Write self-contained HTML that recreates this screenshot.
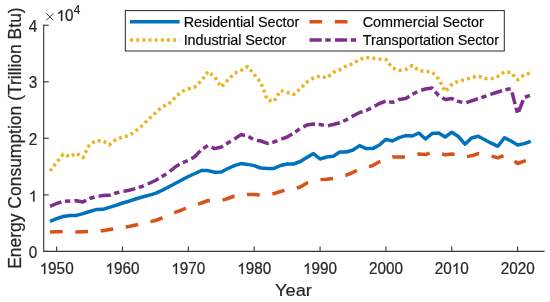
<!DOCTYPE html>
<html><head><meta charset="utf-8"><style>
html,body{margin:0;padding:0;background:#fff;width:550px;height:302px;overflow:hidden;}
svg{display:block;will-change:transform;}
.k{stroke:#262626;stroke-width:0.22px;vector-effect:non-scaling-stroke;}
.k2{stroke:#000;stroke-width:0.15px;}
svg{font-family:"Liberation Sans", sans-serif;}
</style></head><body>
<svg width="550" height="302" viewBox="0 0 550 302">
<rect width="550" height="302" fill="#fff"/>
<g fill="none" stroke-width="3.50" stroke-linejoin="round">
<path d="M50.04,171.00 L56.62,162.50 L63.21,154.20 L69.79,156.80 L76.38,153.20 L82.97,157.60 L89.55,144.50 L96.14,140.80 L102.72,140.60 L109.31,144.80 L115.90,139.50 L122.48,137.20 L129.07,135.50 L135.65,131.00 L142.24,125.50 L148.83,119.00 L155.41,113.00 L162.00,106.80 L168.58,104.00 L175.17,97.50 L181.76,91.50 L188.34,89.00 L194.93,87.00 L201.51,80.50 L208.10,71.50 L214.69,77.00 L221.27,87.00 L227.86,80.00 L234.44,73.30 L241.03,70.50 L247.62,66.50 L254.20,74.50 L260.79,82.50 L267.37,100.00 L273.96,101.50 L280.55,90.50 L287.13,92.50 L293.72,94.50 L300.30,88.50 L306.89,82.00 L313.48,78.00 L320.06,76.00 L326.65,78.00 L333.23,72.30 L339.82,69.80 L346.41,66.00 L352.99,63.60 L359.58,59.40 L366.16,57.50 L372.75,58.30 L379.34,59.00 L385.92,59.50 L392.51,68.00 L399.09,70.20 L405.68,69.50 L412.27,65.60 L418.85,70.60 L425.44,71.50 L432.02,72.00 L438.61,79.00 L445.20,91.60 L451.78,84.50 L458.37,81.00 L464.95,80.00 L471.54,77.50 L478.13,76.00 L484.71,78.40 L491.30,78.60 L497.88,76.40 L504.47,71.80 L511.06,72.50 L517.64,79.80 L524.23,74.80 L530.81,73.00" stroke="#EDB120" stroke-dasharray="2.9 3.25"/>
<path d="M50.04,232.00 L56.62,231.70 L63.21,231.50 L69.79,231.80 L76.38,232.00 L82.97,231.70 L89.55,231.50 L96.14,231.20 L102.72,230.70 L109.31,229.60 L115.90,228.50 L122.48,227.50 L129.07,226.50 L135.65,225.00 L142.24,223.50 L148.83,222.00 L155.41,220.50 L162.00,218.00 L168.58,215.00 L175.17,212.30 L181.76,210.00 L188.34,207.00 L194.93,205.00 L201.51,203.00 L208.10,200.50 L214.69,201.00 L221.27,200.50 L227.86,198.50 L234.44,196.00 L241.03,195.00 L247.62,194.40 L254.20,194.50 L260.79,195.00 L267.37,194.50 L273.96,193.60 L280.55,191.50 L287.13,189.50 L293.72,189.00 L300.30,187.00 L306.89,183.00 L313.48,181.00 L320.06,179.50 L326.65,179.20 L333.23,178.60 L339.82,177.00 L346.41,175.20 L352.99,172.30 L359.58,169.00 L366.16,167.50 L372.75,165.50 L379.34,161.80 L385.92,159.00 L392.51,157.00 L399.09,157.00 L405.68,157.00 L412.27,155.50 L418.85,154.00 L425.44,154.60 L432.02,152.30 L438.61,153.20 L445.20,154.80 L451.78,154.00 L458.37,155.00 L464.95,157.00 L471.54,155.80 L478.13,153.60 L484.71,154.80 L491.30,156.00 L497.88,157.90 L504.47,155.30 L511.06,158.50 L517.64,163.50 L524.23,161.10 L530.81,159.00" stroke="#D95319" stroke-dasharray="12.67 12.67"/>
<path d="M50.04,206.30 L56.62,203.50 L63.21,201.30 L69.79,201.00 L76.38,200.80 L82.97,201.90 L89.55,198.50 L96.14,196.50 L102.72,195.60 L109.31,195.30 L115.90,193.00 L122.48,191.60 L129.07,190.30 L135.65,188.50 L142.24,186.30 L148.83,183.50 L155.41,180.50 L162.00,176.50 L168.58,172.50 L175.17,167.00 L181.76,163.00 L188.34,160.50 L194.93,156.50 L201.51,149.50 L208.10,145.40 L214.69,148.60 L221.27,147.00 L227.86,143.00 L234.44,139.00 L241.03,134.60 L247.62,136.00 L254.20,140.00 L260.79,141.00 L267.37,143.40 L273.96,142.00 L280.55,139.50 L287.13,137.00 L293.72,133.00 L300.30,128.50 L306.89,125.00 L313.48,124.10 L320.06,124.50 L326.65,126.00 L333.23,124.50 L339.82,122.70 L346.41,119.80 L352.99,116.00 L359.58,112.50 L366.16,110.50 L372.75,107.30 L379.34,103.50 L385.92,101.00 L392.51,102.40 L399.09,99.40 L405.68,98.60 L412.27,94.40 L418.85,91.00 L425.44,89.00 L432.02,88.00 L438.61,95.50 L445.20,99.50 L451.78,98.50 L458.37,101.40 L464.95,103.00 L471.54,100.80 L478.13,98.70 L484.71,96.50 L491.30,94.20 L497.88,92.00 L504.47,90.00 L511.06,88.60 L517.64,114.20 L524.23,97.50 L530.81,95.00" stroke="#7E2F8E" stroke-dasharray="12.2 3.6 5.4 4.2"/>
<path d="M50.04,221.40 L56.62,218.60 L63.21,216.50 L69.79,215.60 L76.38,215.40 L82.97,213.60 L89.55,211.50 L96.14,209.60 L102.72,209.30 L109.31,207.30 L115.90,205.30 L122.48,203.00 L129.07,201.20 L135.65,199.00 L142.24,197.00 L148.83,195.30 L155.41,193.30 L162.00,190.40 L168.58,187.00 L175.17,183.50 L181.76,180.00 L188.34,176.50 L194.93,173.50 L201.51,170.50 L208.10,170.60 L214.69,172.20 L221.27,172.00 L227.86,168.50 L234.44,165.60 L241.03,163.60 L247.62,164.40 L254.20,165.60 L260.79,168.00 L267.37,168.40 L273.96,168.40 L280.55,165.50 L287.13,164.00 L293.72,164.00 L300.30,161.50 L306.89,157.50 L313.48,153.60 L320.06,159.00 L326.65,157.00 L333.23,156.30 L339.82,152.00 L346.41,152.00 L352.99,150.00 L359.58,145.60 L366.16,148.60 L372.75,148.60 L379.34,145.00 L385.92,139.40 L392.51,141.00 L399.09,137.60 L405.68,135.60 L412.27,136.00 L418.85,133.00 L425.44,139.00 L432.02,133.60 L438.61,133.00 L445.20,137.00 L451.78,132.20 L458.37,136.50 L464.95,144.20 L471.54,138.00 L478.13,136.30 L484.71,139.80 L491.30,143.20 L497.88,146.30 L504.47,137.80 L511.06,141.00 L517.64,145.00 L524.23,143.60 L530.81,141.30" stroke="#0072BD"/>
</g>
<g stroke="#3a3a3a" stroke-width="1.15" fill="none" stroke-linecap="square">
<path d="M43.70,25.25 L43.70,251.40 L544.00,251.40"/>
<path d="M56.62,251.40 L56.62,247.00"/>
<path d="M122.48,251.40 L122.48,247.00"/>
<path d="M188.34,251.40 L188.34,247.00"/>
<path d="M254.20,251.40 L254.20,247.00"/>
<path d="M320.06,251.40 L320.06,247.00"/>
<path d="M385.92,251.40 L385.92,247.00"/>
<path d="M451.78,251.40 L451.78,247.00"/>
<path d="M517.64,251.40 L517.64,247.00"/>
<path d="M43.70,251.40 L48.20,251.40"/>
<path d="M43.70,194.86 L48.20,194.86"/>
<path d="M43.70,138.32 L48.20,138.32"/>
<path d="M43.70,81.79 L48.20,81.79"/>
<path d="M43.70,25.25 L48.20,25.25"/>
</g>
<path class="k" d="M763,0L583,0L583,1100Q518,1040 412,980Q306,920 221,890L221,1060Q373,1130 487,1230Q601,1330 649,1409L763,1409Z" fill="#262626" transform="translate(39.61,274.00) scale(0.00747,-0.00786)"/><text class="k" font-family="Liberation Sans, sans-serif" font-size="16.10" fill="#262626" transform="translate(48.12,274.00) scale(0.950,1)">9</text><text class="k" font-family="Liberation Sans, sans-serif" font-size="16.10" fill="#262626" transform="translate(56.62,274.00) scale(0.950,1)">5</text><text class="k" font-family="Liberation Sans, sans-serif" font-size="16.10" fill="#262626" transform="translate(65.13,274.00) scale(0.950,1)">0</text>
<path class="k" d="M763,0L583,0L583,1100Q518,1040 412,980Q306,920 221,890L221,1060Q373,1130 487,1230Q601,1330 649,1409L763,1409Z" fill="#262626" transform="translate(105.47,274.00) scale(0.00747,-0.00786)"/><text class="k" font-family="Liberation Sans, sans-serif" font-size="16.10" fill="#262626" transform="translate(113.98,274.00) scale(0.950,1)">9</text><text class="k" font-family="Liberation Sans, sans-serif" font-size="16.10" fill="#262626" transform="translate(122.48,274.00) scale(0.950,1)">6</text><text class="k" font-family="Liberation Sans, sans-serif" font-size="16.10" fill="#262626" transform="translate(130.99,274.00) scale(0.950,1)">0</text>
<path class="k" d="M763,0L583,0L583,1100Q518,1040 412,980Q306,920 221,890L221,1060Q373,1130 487,1230Q601,1330 649,1409L763,1409Z" fill="#262626" transform="translate(171.33,274.00) scale(0.00747,-0.00786)"/><text class="k" font-family="Liberation Sans, sans-serif" font-size="16.10" fill="#262626" transform="translate(179.84,274.00) scale(0.950,1)">9</text><text class="k" font-family="Liberation Sans, sans-serif" font-size="16.10" fill="#262626" transform="translate(188.34,274.00) scale(0.950,1)">7</text><text class="k" font-family="Liberation Sans, sans-serif" font-size="16.10" fill="#262626" transform="translate(196.85,274.00) scale(0.950,1)">0</text>
<path class="k" d="M763,0L583,0L583,1100Q518,1040 412,980Q306,920 221,890L221,1060Q373,1130 487,1230Q601,1330 649,1409L763,1409Z" fill="#262626" transform="translate(237.19,274.00) scale(0.00747,-0.00786)"/><text class="k" font-family="Liberation Sans, sans-serif" font-size="16.10" fill="#262626" transform="translate(245.70,274.00) scale(0.950,1)">9</text><text class="k" font-family="Liberation Sans, sans-serif" font-size="16.10" fill="#262626" transform="translate(254.20,274.00) scale(0.950,1)">8</text><text class="k" font-family="Liberation Sans, sans-serif" font-size="16.10" fill="#262626" transform="translate(262.71,274.00) scale(0.950,1)">0</text>
<path class="k" d="M763,0L583,0L583,1100Q518,1040 412,980Q306,920 221,890L221,1060Q373,1130 487,1230Q601,1330 649,1409L763,1409Z" fill="#262626" transform="translate(303.05,274.00) scale(0.00747,-0.00786)"/><text class="k" font-family="Liberation Sans, sans-serif" font-size="16.10" fill="#262626" transform="translate(311.56,274.00) scale(0.950,1)">9</text><text class="k" font-family="Liberation Sans, sans-serif" font-size="16.10" fill="#262626" transform="translate(320.06,274.00) scale(0.950,1)">9</text><text class="k" font-family="Liberation Sans, sans-serif" font-size="16.10" fill="#262626" transform="translate(328.57,274.00) scale(0.950,1)">0</text>
<text class="k" font-family="Liberation Sans, sans-serif" font-size="16.10" fill="#262626" transform="translate(368.91,274.00) scale(0.950,1)">2</text><text class="k" font-family="Liberation Sans, sans-serif" font-size="16.10" fill="#262626" transform="translate(377.42,274.00) scale(0.950,1)">0</text><text class="k" font-family="Liberation Sans, sans-serif" font-size="16.10" fill="#262626" transform="translate(385.92,274.00) scale(0.950,1)">0</text><text class="k" font-family="Liberation Sans, sans-serif" font-size="16.10" fill="#262626" transform="translate(394.43,274.00) scale(0.950,1)">0</text>
<text class="k" font-family="Liberation Sans, sans-serif" font-size="16.10" fill="#262626" transform="translate(434.77,274.00) scale(0.950,1)">2</text><text class="k" font-family="Liberation Sans, sans-serif" font-size="16.10" fill="#262626" transform="translate(443.28,274.00) scale(0.950,1)">0</text><path class="k" d="M763,0L583,0L583,1100Q518,1040 412,980Q306,920 221,890L221,1060Q373,1130 487,1230Q601,1330 649,1409L763,1409Z" fill="#262626" transform="translate(451.78,274.00) scale(0.00747,-0.00786)"/><text class="k" font-family="Liberation Sans, sans-serif" font-size="16.10" fill="#262626" transform="translate(460.29,274.00) scale(0.950,1)">0</text>
<text class="k" font-family="Liberation Sans, sans-serif" font-size="16.10" fill="#262626" transform="translate(500.63,274.00) scale(0.950,1)">2</text><text class="k" font-family="Liberation Sans, sans-serif" font-size="16.10" fill="#262626" transform="translate(509.14,274.00) scale(0.950,1)">0</text><text class="k" font-family="Liberation Sans, sans-serif" font-size="16.10" fill="#262626" transform="translate(517.64,274.00) scale(0.950,1)">2</text><text class="k" font-family="Liberation Sans, sans-serif" font-size="16.10" fill="#262626" transform="translate(526.15,274.00) scale(0.950,1)">0</text>
<text class="k" font-family="Liberation Sans, sans-serif" font-size="16.10" fill="#262626" transform="translate(28.79,258.10) scale(0.950,1)">0</text>
<path class="k" d="M763,0L583,0L583,1100Q518,1040 412,980Q306,920 221,890L221,1060Q373,1130 487,1230Q601,1330 649,1409L763,1409Z" fill="#262626" transform="translate(28.79,201.56) scale(0.00747,-0.00786)"/>
<text class="k" font-family="Liberation Sans, sans-serif" font-size="16.10" fill="#262626" transform="translate(28.79,145.02) scale(0.950,1)">2</text>
<text class="k" font-family="Liberation Sans, sans-serif" font-size="16.10" fill="#262626" transform="translate(28.79,88.49) scale(0.950,1)">3</text>
<text class="k" font-family="Liberation Sans, sans-serif" font-size="16.10" fill="#262626" transform="translate(28.79,31.95) scale(0.950,1)">4</text>
<path d="M46.3,13.3 L53.4,20.4 M53.4,13.3 L46.3,20.4" stroke="#262626" stroke-width="0.9" fill="none"/>
<path class="k" d="M763,0L583,0L583,1100Q518,1040 412,980Q306,920 221,890L221,1060Q373,1130 487,1230Q601,1330 649,1409L763,1409Z" fill="#262626" transform="translate(56.60,21.00) scale(0.00747,-0.00786)"/><text class="k" font-family="Liberation Sans, sans-serif" font-size="16.10" fill="#262626" transform="translate(65.11,21.00) scale(0.950,1)">0</text>
<text class="k" font-family="Liberation Sans, sans-serif" font-size="12.40" fill="#262626" transform="translate(73.70,13.70) scale(0.950,1)">4</text>
<text class="k" font-family="Liberation Sans, sans-serif" font-size="17.2" fill="#262626" transform="translate(293.5,295.5) scale(1.06,1)" text-anchor="middle">Year</text>
<text class="k" font-family="Liberation Sans, sans-serif" font-size="17.7" fill="#262626" transform="translate(20.7,138.1) rotate(-90) scale(0.988,1)" text-anchor="middle">Energy Consumption (Trillion Btu)</text>
<rect x="125.3" y="10.6" width="379.0" height="40.4" fill="#fff" stroke="#262626" stroke-width="1"/>
<g fill="none" stroke-width="3.50">
<path d="M130,21.8 L179.6,21.8" stroke="#0072BD"/>
<path d="M130.1,39.9 L179.6,39.9" stroke="#EDB120" stroke-dasharray="2.9 3.25"/>
<path d="M309.5,21.8 L357,21.8" stroke="#D95319" stroke-dasharray="12.67 12.67"/>
<path d="M309.5,39.9 L357,39.9" stroke="#7E2F8E" stroke-dasharray="12.2 3.6 5.4 4.2"/>
</g>
<g class="k2" font-family="Liberation Sans, sans-serif" font-size="14.40" fill="#000">
<text x="183.7" y="27.2" textLength="115.5" lengthAdjust="spacing">Residential Sector</text>
<text x="183.7" y="45.4" textLength="102.7" lengthAdjust="spacing">Industrial Sector</text>
<text x="362.8" y="27.2" textLength="120.9" lengthAdjust="spacing">Commercial Sector</text>
<text x="362.8" y="45.4" textLength="136.2" lengthAdjust="spacing">Transportation Sector</text>
</g>
</svg>
</body></html>
